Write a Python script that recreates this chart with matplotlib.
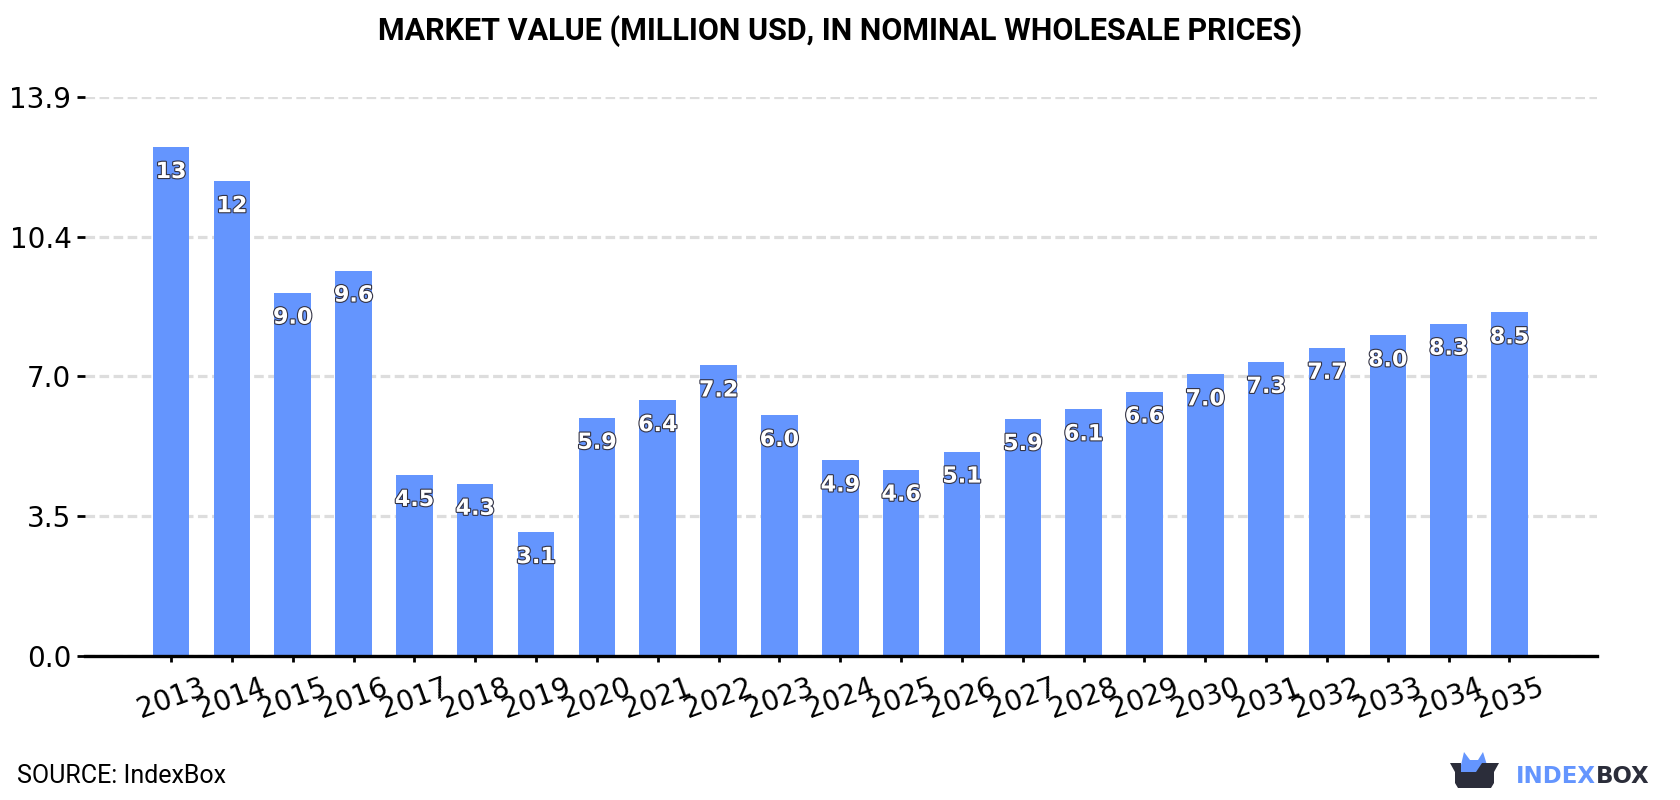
import matplotlib
matplotlib.use("Agg")
import matplotlib.pyplot as plt
import matplotlib.patheffects as pe
from matplotlib.patches import Polygon

years = list(range(2013, 2036))
values = [12.65, 11.8, 9.03, 9.58, 4.5, 4.28, 3.08, 5.92, 6.36, 7.22, 5.99,
          4.86, 4.63, 5.08, 5.89, 6.13, 6.57, 7.0, 7.31, 7.66, 7.97, 8.26, 8.54]
y_ticks = [0.0, 3.475, 6.95, 10.425, 13.9]
y_tick_labels = ["0.0", "3.5", "7.0", "10.4", "13.9"]

BLUE = "#6495fe"
DARK = "#2b2d3a"
W, H = 1680, 800

fig = plt.figure(figsize=(16.8, 8), dpi=100)
ax = fig.add_axes([85 / W, 1 - 656 / H, (1596.5 - 85) / W, (656 - 96.7) / H])

ax.set_axisbelow(True)
ax.yaxis.grid(True, color="#dddddd", linewidth=2.3, linestyle=(0, (3.0, 1.4)))
ax.bar(years, values, width=0.6, color=BLUE, zorder=2)

ax.set_xlim(2013 - 1.414, 2013 + 23.43)
ax.set_ylim(0, 13.9)
ax.set_yticks(y_ticks, y_tick_labels)
ax.set_xticks(years, [str(y) for y in years], rotation=20)
ax.tick_params(axis="y", labelsize=20, length=5.8, width=2, pad=4, color="black")
ax.tick_params(axis="x", labelsize=20, length=4.6, width=2, pad=7.5, color="black")

for side in ("top", "right", "left"):
    ax.spines[side].set_visible(False)
ax.spines["bottom"].set_linewidth(2.4)

# Value labels sit just under each bar top, white with a dark outline
for year, value in zip(years, values):
    text = f"{value:.0f}" if value >= 10 else f"{value:.1f}"
    ax.annotate(text, (year, value), xytext=(0, -25), textcoords="offset pixels",
                ha="center", va="center", fontsize=16, fontweight="bold",
                color="white", zorder=3,
                path_effects=[pe.withStroke(linewidth=1.6, foreground="#333344")])

fig.text(0.5, 1 - 31 / H, "MARKET VALUE (MILLION USD, IN NOMINAL WHOLESALE PRICES)",
         ha="center", va="center", fontsize=22, fontweight="bold",
         family="Roboto", color="black")
fig.text(17 / W, 1 - 776 / H, "SOURCE: IndexBox", ha="left", va="center",
         fontsize=18, family="Roboto", color="black")

# Logo: an open box with a blue shape rising out of it, drawn in pixel coordinates
logo = fig.add_axes([0, 0, 1, 1], facecolor="none")
logo.set_xlim(0, W)
logo.set_ylim(H, 0)
logo.axis("off")
logo.add_patch(Polygon([(1461, 772), (1461, 765), (1464, 752), (1470, 760), (1478, 760),
                        (1483, 752), (1487, 765), (1487, 772)], color=BLUE, lw=0))
logo.add_patch(Polygon([(1450, 763), (1461, 763), (1461, 772), (1476, 772), (1482, 763),
                        (1499, 763), (1494, 772), (1494, 783), (1491, 788), (1458, 788),
                        (1455, 783), (1455, 772)], color=DARK, lw=0))
logo.text(1516, 783, "INDEX", color=BLUE, fontsize=16.5, fontweight="bold",
          family="DejaVu Sans", ha="left", va="baseline")
logo.text(1596, 783, "BOX", color=DARK, fontsize=16.5, fontweight="bold",
          family="DejaVu Sans", ha="left", va="baseline")

fig.savefig("out.png", dpi=100)
